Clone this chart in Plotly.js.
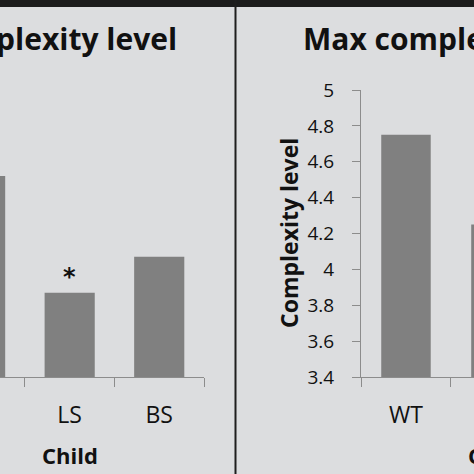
<!DOCTYPE html>
<html>
<head>
<meta charset="utf-8">
<script src="https://cdn.plot.ly/plotly-3.0.1.min.js"></script>
<style>
  html, body { margin: 0; padding: 0; background: #dcdddf; }
  #chart { width: 474px; height: 474px; }
</style>
</head>
<body>
<div id="chart"></div>
<script>
// Mean complexity level per child group
const meanGroups = ["WT", "LS", "BS"];
const meanValues = [3.52, 2.87, 3.07];

// Max complexity level per child group
const maxGroups = ["WT", "LS"];
const maxValues = [4.75, 4.25];

// Group marked as significantly different
const markedGroup = "LS";

const W = 474, H = 474;
const px = v => v / W;          // horizontal pixel -> paper
const py = v => 1 - v / H;      // vertical pixel -> paper

const FONT = "Open Sans";
const BG = "#dcdddf";
const BAR = "#808080";
const AXIS = "#8c8c8c";
const INK = "#111111";

const yDomain = [py(377), py(90)];

const traces = [
  {
    type: "bar", x: meanGroups, y: meanValues,
    xaxis: "x", yaxis: "y",
    marker: { color: BAR, line: { width: 0 } },
    width: 0.56, hoverinfo: "skip"
  },
  {
    type: "bar", x: maxGroups, y: maxValues,
    xaxis: "x2", yaxis: "y2",
    marker: { color: BAR, line: { width: 0 } },
    width: 0.55, hoverinfo: "skip"
  }
];

const catAxis = {
  type: "category",
  tickson: "boundaries",
  ticks: "outside", ticklen: 9, tickwidth: 1, tickcolor: AXIS,
  showline: true, linecolor: AXIS, linewidth: 1,
  showgrid: false, zeroline: false,
  ticklabelstandoff: 17,
  tickfont: { family: FONT, size: 23, color: INK },
  fixedrange: true
};

const layout = {
  width: W, height: H,
  margin: { l: 0, r: 0, t: 0, b: 0 },
  paper_bgcolor: BG, plot_bgcolor: BG,
  showlegend: false,
  xaxis: Object.assign({}, catAxis, {
    domain: [0, px(204)], range: [0.222, 2.5], anchor: "y",
    categoryorder: "array", categoryarray: meanGroups
  }),
  yaxis: {
    domain: yDomain, range: [2.4, 4.0], anchor: "x",
    visible: false, fixedrange: true
  },
  xaxis2: Object.assign({}, catAxis, {
    domain: [px(361), 1], range: [-0.5, 0.756], anchor: "y2",
    categoryorder: "array", categoryarray: ["WT", "LS", "BS"]
  }),
  yaxis2: {
    domain: yDomain, range: [3.4, 5.0], anchor: "x2",
    dtick: 0.2, tick0: 3.4,
    ticks: "outside", ticklen: 8, tickwidth: 1, tickcolor: AXIS,
    showline: true, linecolor: AXIS, linewidth: 1,
    showgrid: false, zeroline: false,
    ticklabelstandoff: 14,
    tickfont: { family: FONT, size: 19, color: INK },
    fixedrange: true
  },
  shapes: [
    // dark band along the top edge
    { type: "rect", xref: "paper", yref: "paper", x0: 0, x1: 1, y0: py(7), y1: 1,
      fillcolor: "#1c1c1c", line: { width: 0 }, layer: "above" },
    // divider between the two panels
    { type: "line", xref: "paper", yref: "paper", x0: px(235.5), x1: px(235.5), y0: 0, y1: 1,
      line: { color: "#1e1e1e", width: 2 }, layer: "above" }
  ],
  annotations: [
    { text: "<b>Mean complexity level</b>", xref: "paper", yref: "paper",
      x: px(179), y: py(38), xanchor: "right", yanchor: "middle", showarrow: false,
      font: { family: FONT, size: 30, color: INK } },
    { text: "<b>Max complexity level</b>", xref: "paper", yref: "paper",
      x: px(301), y: py(38), xanchor: "left", yanchor: "middle", showarrow: false,
      font: { family: FONT, size: 30, color: INK } },
    { text: "<b>Child</b>", xref: "paper", yref: "paper",
      x: px(70), y: py(455), xanchor: "center", yanchor: "middle", showarrow: false,
      font: { family: FONT, size: 22, color: INK } },
    { text: "<b>Child</b>", xref: "paper", yref: "paper",
      x: px(496), y: py(455), xanchor: "center", yanchor: "middle", showarrow: false,
      font: { family: FONT, size: 22, color: INK } },
    { text: "<b>Complexity level</b>", xref: "paper", yref: "paper",
      x: px(289), y: py(233), xanchor: "center", yanchor: "middle", textangle: -90,
      showarrow: false, font: { family: FONT, size: 23, color: INK } },
    { text: "<b>*</b>", xref: "x", yref: "y",
      x: markedGroup, y: meanValues[meanGroups.indexOf(markedGroup)],
      xanchor: "center", yanchor: "bottom", yshift: 0, showarrow: false,
      font: { family: "DejaVu Sans", size: 24, color: INK } }
  ]
};

Plotly.newPlot("chart", traces, layout, { staticPlot: true, displayModeBar: false });
</script>
</body>
</html>
